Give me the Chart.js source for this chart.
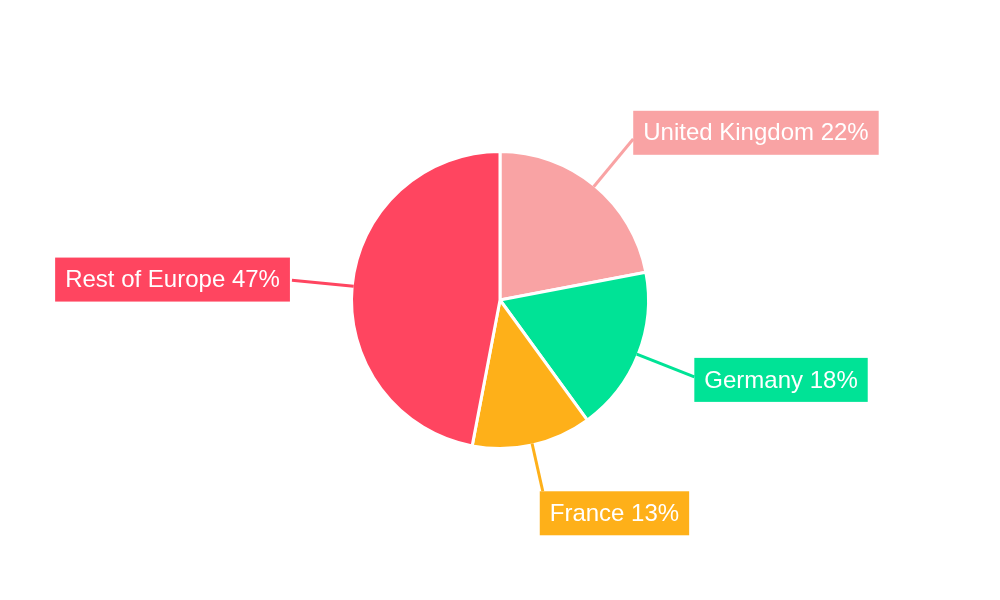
<!DOCTYPE html>
<html>
<head>
<meta charset="utf-8">
<script src="https://cdn.jsdelivr.net/npm/chart.js@4"></script>
<style>
  html, body { margin: 0; padding: 0; background: #fff; }
  #wrap { width: 1000px; height: 600px; position: relative; }
</style>
</head>
<body>
<div id="wrap"><canvas id="pie"></canvas></div>
<script>
const regions = ['United Kingdom', 'Germany', 'France', 'Rest of Europe'];
const shares = [22, 18, 13, 47];
const colours = ['#F9A3A4', '#00E396', '#FEB019', '#FF4560'];

// boxed labels with a radial leader line, drawn from each arc
const calloutLabels = {
  id: 'calloutLabels',
  afterDatasetsDraw(chart) {
    const ctx = chart.ctx;
    const meta = chart.getDatasetMeta(0);
    ctx.save();
    ctx.font = '24px "Liberation Sans", Arial, sans-serif';
    ctx.textBaseline = 'middle';
    meta.data.forEach(function(arc, i) {
      const p = arc.getProps(['x', 'y', 'startAngle', 'endAngle', 'outerRadius'], true);
      const mid = (p.startAngle + p.endAngle) / 2;
      const c = Math.cos(mid), s = Math.sin(mid);
      const r0 = p.outerRadius - 1.5;
      const vertical = Math.abs(c) < 0.5;
      const r1 = r0 + (vertical ? 49 : 62);
      const sx = p.x + c * r0, sy = p.y + s * r0;
      const ex = p.x + c * r1, ey = p.y + s * r1;

      ctx.strokeStyle = colours[i];
      ctx.lineWidth = 3;
      ctx.beginPath();
      ctx.moveTo(sx, sy);
      ctx.lineTo(ex, ey);
      ctx.stroke();

      const text = regions[i] + ' ' + shares[i] + '%';
      const w = ctx.measureText(text).width + 20;
      const h = 44;
      let bx, by;
      if (vertical) {
        bx = ex - 3;
        by = s > 0 ? ey : ey - h;
      } else {
        bx = c > 0 ? ex : ex - w - 2;
        by = ey - h / 2 + s * 8;
      }
      ctx.fillStyle = colours[i];
      ctx.fillRect(bx, by, w, h);
      ctx.fillStyle = '#ffffff';
      ctx.textAlign = 'left';
      ctx.fillText(text, bx + 10, by + h / 2 + 1);
    });
    ctx.restore();
  }
};

new Chart(document.getElementById('pie'), {
  type: 'pie',
  data: {
    labels: regions,
    datasets: [{
      data: shares,
      backgroundColor: colours,
      borderColor: '#ffffff',
      borderWidth: 3
    }]
  },
  options: {
    responsive: true,
    maintainAspectRatio: false,
    animation: false,
    layout: { padding: { top: 150, bottom: 150 } },
    plugins: {
      legend: { display: false },
      tooltip: { enabled: false }
    }
  },
  plugins: [calloutLabels]
});
</script>
</body>
</html>
